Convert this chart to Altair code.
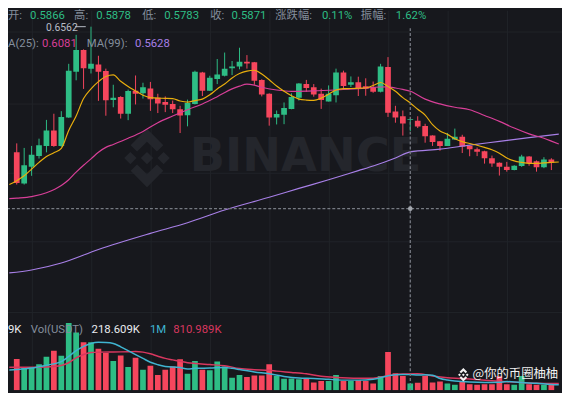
import altair as alt
import pandas as pd

# ---------------- data ----------------
opens = [0.5625,0.5392,0.5518,0.5597,0.5673,0.5788,0.5673,0.5885,0.6225,0.6388,
         0.6249,0.6280,0.6231,0.6016,0.6038,0.5913,0.6085,0.6065,0.6101,0.6033,
         0.6000,0.5985,0.5946,0.5901,0.5985,0.6220,0.6085,0.6172,0.6196,0.6252,
         0.6265,0.6301,0.6297,0.6165,0.6062,0.5884,0.5905,0.5949,0.6033,0.6134,
         0.6110,0.6062,0.6004,0.6051,0.6220,0.6129,0.6148,0.6117,0.6110,0.6076,
         0.6261,0.5930,0.5894,0.5866,0.5860,0.5822,0.5750,0.5707,0.5673,0.5721,
         0.5741,0.5673,0.5649,0.5633,0.5581,0.5548,0.5518,0.5493,0.5524,0.5594,
         0.5558,0.5514,0.5572]
closes = [0.5397,0.5529,0.5608,0.5678,0.5788,0.5673,0.5889,0.6234,0.6388,0.6252,
          0.6285,0.6225,0.6013,0.6033,0.5913,0.6083,0.6062,0.6110,0.6021,0.5990,
          0.5980,0.5946,0.5900,0.5993,0.6225,0.6085,0.6182,0.6206,0.6249,0.6265,
          0.6301,0.6287,0.6159,0.6057,0.5885,0.5910,0.5956,0.6038,0.6139,0.6105,
          0.6057,0.6015,0.6062,0.6220,0.6119,0.6148,0.6105,0.6100,0.6076,0.6265,
          0.5920,0.5884,0.5841,0.5871,0.5817,0.5745,0.5702,0.5673,0.5727,0.5741,
          0.5668,0.5649,0.5630,0.5581,0.5541,0.5517,0.5493,0.5525,0.5594,0.5545,
          0.5514,0.5572,0.5550]
highs = [0.5692,0.5658,0.5673,0.5727,0.5867,0.5913,0.5932,0.6285,0.6501,0.6393,
         0.6562,0.6345,0.6249,0.6129,0.6044,0.6093,0.6198,0.6144,0.6150,0.6062,
         0.6042,0.6011,0.5972,0.6018,0.6234,0.6225,0.6196,0.6321,0.6369,0.6306,
         0.6405,0.6350,0.6299,0.6170,0.6065,0.5937,0.5997,0.6065,0.6141,0.6165,
         0.6134,0.6100,0.6124,0.6249,0.6234,0.6191,0.6189,0.6177,0.6153,0.6285,
         0.6335,0.5972,0.5937,0.5878,0.5894,0.5838,0.5752,0.5709,0.5770,0.5802,
         0.5756,0.5676,0.5661,0.5637,0.5601,0.5550,0.5554,0.5529,0.5607,0.5597,
         0.5565,0.5589,0.5581]
lows = [0.5385,0.5385,0.5450,0.5579,0.5625,0.5666,0.5666,0.5882,0.6162,0.6098,
        0.6213,0.6009,0.5898,0.5961,0.5877,0.5865,0.5982,0.6026,0.5934,0.5918,
        0.5925,0.5918,0.5769,0.5819,0.5982,0.6045,0.6083,0.6134,0.6191,0.6201,
        0.6244,0.6249,0.6129,0.6042,0.5824,0.5833,0.5835,0.5946,0.6011,0.6076,
        0.6040,0.5949,0.6004,0.5997,0.6105,0.6112,0.6045,0.6047,0.6069,0.6072,
        0.5889,0.5846,0.5750,0.5783,0.5806,0.5697,0.5673,0.5637,0.5673,0.5718,
        0.5620,0.5596,0.5597,0.5541,0.5517,0.5452,0.5481,0.5491,0.5517,0.5525,
        0.5481,0.5507,0.5493]
volumes_k = [1009,741,719,844,1084,1281,1116,2178,1866,1553,
             1553,1344,1209,947,1125,750,1053,666,791,491,
             666,772,1000,531,947,666,647,928,772,406,
             491,428,478,478,844,459,375,384,353,384,
             250,303,303,491,303,303,322,303,219,459,
             1241,553,459,218.609,241,459,250,281,219,178,
             281,197,178,197,197,453,197,178,459,197,
             178,178,197]

ma7_idx = list(range(-1, 74))
ma7_val = [0.5385,0.5414,0.5450,0.5500,0.5550,0.5594,0.5622,0.5655,0.5788,0.5896,
           0.6026,0.6098,0.6152,0.6191,0.6202,0.6155,0.6116,0.6083,0.6051,0.6033,
           0.6029,0.6028,0.6026,0.6008,0.6000,0.6011,0.6022,0.6054,0.6098,0.6134,
           0.6180,0.6213,0.6231,0.6237,0.6209,0.6166,0.6119,0.6080,0.6047,0.6022,
           0.6015,0.6013,0.6029,0.6058,0.6090,0.6100,0.6101,0.6103,0.6105,0.6123,
           0.6146,0.6116,0.6080,0.6033,0.5993,0.5946,0.5903,0.5831,0.5784,0.5759,
           0.5727,0.5705,0.5691,0.5678,0.5662,0.5644,0.5619,0.5583,0.5561,0.5550,
           0.5543,0.5543,0.5547,0.5550,0.5553]
ma25_idx = [-1,0,2,4,6,7,8,9,10,11,12,13,15,17,19,21,23,25,27,29,30,31,32,33,35,
            37,40,43,46,49,50,51,52,53,55,57,59,61,63,65,67,69,71,72,73]
ma25_val = [0.5280,0.5284,0.5295,0.5324,0.5378,0.5421,0.5478,0.5529,0.5576,0.5626,
            0.5662,0.5684,0.5730,0.5781,0.5846,0.5896,0.5943,0.5986,0.6040,0.6098,
            0.6119,0.6134,0.6126,0.6110,0.6090,0.6080,0.6083,0.6090,0.6099,0.6112,
            0.6113,0.6105,0.6094,0.6081,0.6022,0.5986,0.5961,0.5943,0.5900,0.5856,
            0.5806,0.5763,0.5730,0.5709,0.5687]
ma99_idx = [-1,2,6,11,18,23,28,34,38,42,46,48,51,53,57,61,65,69,73]
ma99_val = [0.4726,0.4748,0.4800,0.4901,0.5021,0.5100,0.5195,0.5290,0.5356,0.5421,
            0.5489,0.5523,0.5583,0.5628,0.5649,0.5679,0.5707,0.5735,0.5761]

vma5_idx = [-1,0,2,4,6,7,8,9,10,11,12,13,14,15,16,17,18,19,20,22,23,24,26,28,29,30,
            32,34,36,38,40,42,44,46,48,49,50,51,52,53,54,55,56,57,58,59,61,63,65,66,
            67,68,70,72,73]
vma5_val = [656,672,719,812,928,1094,1281,1422,1516,1553,1547,1516,1406,1281,1156,
            1031,906,828,772,734,688,709,719,734,709,672,594,531,447,397,384,353,
            328,328,359,406,469,500,509,506,491,500,484,381,334,303,266,250,259,281,
            266,250,225,188,178]
vma10_idx = [-1,0,3,5,6,7,8,9,10,11,13,15,16,17,18,19,20,21,22,23,24,26,28,30,32,34,
             35,37,39,41,43,46,48,50,52,54,56,58,60,62,64,66,68,70,72,73]
vma10_val = [741,741,741,766,803,891,1047,1156,1219,1234,1241,1244,1256,1234,1181,
             1103,1031,984,938,891,866,831,794,703,666,647,619,578,531,453,416,391,
             391,469,525,531,459,406,381,344,306,275,250,228,219,219]

grid_idx = [2.1, 10.1, 18.1, 26.1, 34.1, 42.1, 50.1, 58.1, 66.1]
grid_price = [0.6522, 0.5985, 0.5469, 0.4958, 0.4431]

cross_idx = 53
cross_price = 0.5205
cross_top = 0.6551
max_high_idx = 10
max_high = 0.6562

# ---------------- layout / style ----------------
W, H = 562, 385
SX, SY = W / 570.0, H / 393.0
X_MIN, X_MAX = -0.5143, 72.769
P_MAX = 0.66808
P_MIN = P_MAX - 393 * 0.00072
V_MAX = 393 * 31.25

BG = "#17181d"
GRID = "#212429"
GREEN = "#2ebd85"
RED = "#f6465d"
GREY = "#848e9c"
WHITE = "#eaecef"
YEL = "#e9ae0d"
PINK = "#d83f98"
PURP = "#a77fe6"
CYAN = "#3fb4d0"
VPINK = "#d8375f"
CROSS = "#767a82"
WM = "#24262c"
FONT = "Roboto, 'Noto Sans CJK SC', sans-serif"

LOGO = ("M0,-1 L0.56,-0.44 L0.34,-0.22 L0,-0.56 L-0.34,-0.22 L-0.56,-0.44 Z "
        "M0,1 L0.56,0.44 L0.34,0.22 L0,0.56 L-0.34,0.22 L-0.56,0.44 Z "
        "M0,-0.21 L0.21,0 L0,0.21 L-0.21,0 Z "
        "M-0.78,0 L-0.57,-0.21 L-0.36,0 L-0.57,0.21 Z "
        "M0.78,0 L0.57,-0.21 L0.36,0 L0.57,0.21 Z")

x_sc = alt.Scale(domain=[X_MIN, X_MAX], nice=False, zero=False)
p_sc = alt.Scale(domain=[P_MIN, P_MAX], nice=False, zero=False)
v_sc = alt.Scale(domain=[0, V_MAX], nice=False, zero=True)
X = alt.X("idx:Q", scale=x_sc, axis=None)

candles = pd.DataFrame({"idx": list(range(len(opens))), "open": opens, "high": highs,
                        "low": lows, "close": closes, "vol": volumes_k})
candles["col"] = [GREEN if c >= o else RED for o, c in zip(opens, closes)]

layers = []

# grid
layers.append(alt.Chart(pd.DataFrame({"idx": grid_idx})).mark_rule(
    color=GRID, strokeWidth=1).encode(x=X))
layers.append(alt.Chart(pd.DataFrame({"p": grid_price})).mark_rule(
    color=GRID, strokeWidth=1).encode(y=alt.Y("p:Q", scale=p_sc, axis=None)))

# watermark
wm = pd.DataFrame({"t": ["BINANCE"]})
layers.append(alt.Chart(wm).mark_point(shape=LOGO, filled=True, size=3500, color=WM,
                                       opacity=1).encode(
    x=alt.value(143 * SX), y=alt.value(152.5 * SY)))
layers.append(alt.Chart(wm).mark_text(font="DejaVu Sans", fontWeight="bold", fontSize=47,
                                      align="left", baseline="middle", color=WM).encode(
    x=alt.value(187 * SX), y=alt.value(152 * SY), text="t:N"))

# volume
layers.append(alt.Chart(candles).mark_bar(size=5.8, clip=True, orient="vertical").encode(
    x=X, y=alt.Y("vol:Q", scale=v_sc, axis=None), y2=alt.datum(0),
    color=alt.Color("col:N", scale=None)))


def line(idx, vals, color, scale, width):
    df = pd.DataFrame({"idx": idx, "v": vals})
    return alt.Chart(df).mark_line(color=color, strokeWidth=width, clip=True,
                                   interpolate="monotone").encode(
        x=X, y=alt.Y("v:Q", scale=scale, axis=None))


layers.append(line(vma10_idx, vma10_val, VPINK, v_sc, 1.5))
layers.append(line(vma5_idx, vma5_val, CYAN, v_sc, 1.5))

# candles
layers.append(alt.Chart(candles).mark_rule(strokeWidth=1, clip=True).encode(
    x=X, y=alt.Y("low:Q", scale=p_sc, axis=None), y2="high:Q",
    color=alt.Color("col:N", scale=None)))
layers.append(alt.Chart(candles).mark_bar(size=5.8, clip=True, orient="vertical").encode(
    x=X, y=alt.Y("open:Q", scale=p_sc, axis=None), y2="close:Q",
    color=alt.Color("col:N", scale=None)))

layers.append(line(ma99_idx, ma99_val, PURP, p_sc, 1.2))
layers.append(line(ma25_idx, ma25_val, PINK, p_sc, 1.2))
layers.append(line(ma7_idx, ma7_val, YEL, p_sc, 1.2))

# crosshair
ch = pd.DataFrame({"idx": [cross_idx], "top": [cross_top], "bot": [P_MIN], "p": [cross_price]})
layers.append(alt.Chart(ch).mark_rule(color=CROSS, strokeWidth=1.3, strokeDash=[3, 2]).encode(
    x=X, y=alt.Y("top:Q", scale=p_sc, axis=None), y2="bot:Q"))
layers.append(alt.Chart(ch).mark_rule(color=CROSS, strokeWidth=1.3, strokeDash=[3, 2]).encode(
    y=alt.Y("p:Q", scale=p_sc, axis=None)))
layers.append(alt.Chart(ch).mark_point(filled=True, size=22, color="#a3a7ae", opacity=1).encode(
    x=X, y=alt.Y("p:Q", scale=p_sc, axis=None)))

# max-high marker
hl = pd.DataFrame({"idx": [max_high_idx], "p": [max_high], "t": [f"{max_high:.4f}"]})
layers.append(alt.Chart(hl).mark_text(align="right", baseline="middle", dx=-13.5, dy=1,
                                      fontSize=10.5, color="#b7bdc6", font=FONT).encode(
    x=X, y=alt.Y("p:Q", scale=p_sc, axis=None), text="t:N"))
layers.append(alt.Chart(hl).mark_rule(color="#b7bdc6", strokeWidth=1).encode(
    x=alt.value(69 * SX), x2=alt.value(80 * SX), y=alt.Y("p:Q", scale=p_sc, axis=None)))

# header texts
hdr = [
    ("开:", 0, 6, GREY), ("0.5866", 22.7, 6, GREEN), ("高:", 68, 6, GREY),
    ("0.5878", 90.7, 6, GREEN), ("低:", 138, 6, GREY), ("0.5783", 160.7, 6, GREEN),
    ("收:", 208, 6, GREY), ("0.5871", 230, 6, GREEN), ("涨跌幅:", 275, 6, GREY),
    ("0.11%", 323, 6, GREEN), ("振幅:", 363, 6, GREY), ("1.62%", 399, 6, GREEN),
    ("A(25):", 0, 34, GREY), ("0.6081", 35, 34, PINK), ("MA(99):", 81, 34, GREY),
    ("0.5628", 130.7, 34, PURP),
    ("9K", 0, 331, WHITE), ("Vol(USDT)", 23.5, 331, GREY), ("218.609K", 86, 331, WHITE),
    ("1M", 146, 331, CYAN), ("810.989K", 170, 331, VPINK),
]
hdf = pd.DataFrame({"t": [h[0] for h in hdr], "x": [h[1] * SX for h in hdr],
                    "y": [h[2] * SY for h in hdr], "c": [h[3] for h in hdr]})
layers.append(alt.Chart(hdf).mark_text(align="left", baseline="middle", fontSize=11.5,
                                       font=FONT).encode(
    x=alt.X("x:Q", scale=None, axis=None), y=alt.Y("y:Q", scale=None, axis=None),
    text="t:N", color=alt.Color("c:N", scale=None)))

# bottom-right watermark
br = pd.DataFrame({"t": ["@你的币圈柚柚"]})
layers.append(alt.Chart(br).mark_point(shape=LOGO, filled=True, size=190, color="#f2f2f2",
                                       opacity=1).encode(
    x=alt.value(468.5 * SX), y=alt.value(377 * SY)))
layers.append(alt.Chart(br).mark_text(align="left", baseline="middle", fontSize=12.5,
                                      font="'Noto Sans CJK SC', sans-serif",
                                      color="#f2f2f2").encode(
    x=alt.value(478 * SX), y=alt.value(376.5 * SY), text="t:N"))

chart = alt.layer(*layers).resolve_scale(y="independent").properties(
    width=W, height=H, background=BG, padding=0,
    autosize=alt.AutoSizeParams(type="none"),
).configure_view(stroke=None)

chart.save("out.html", embed_options={"renderer": "svg", "actions": False})
